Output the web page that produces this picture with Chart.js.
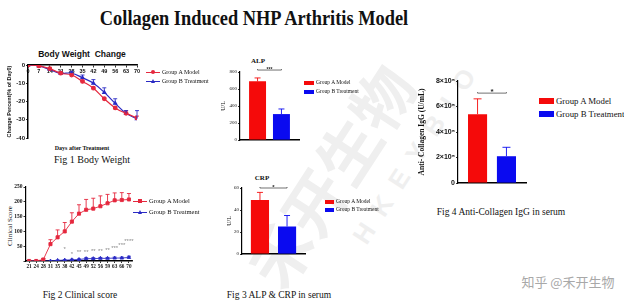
<!DOCTYPE html>
<html>
<head>
<meta charset="utf-8">
<script src="https://cdn.jsdelivr.net/npm/chart.js@4.4.1/dist/chart.umd.min.js"></script>
<style>
body { margin: 0; width: 624px; height: 307px; background: #fff; position: relative; overflow: hidden; font-family: 'Liberation Serif', serif; color: #111; }
canvas { position: absolute; }
.t { position: absolute; white-space: nowrap; transform: translate(-50%, -50%); line-height: 1; }
.lg { position: absolute; white-space: nowrap; line-height: 1; transform: translateY(-50%); }
.sw { position: absolute; }
.mark { position: absolute; white-space: nowrap; color: #efefef; font-family: 'Noto Sans CJK SC', sans-serif; font-weight: bold; transform-origin: center; }
</style>
</head>
<body>

<div class="mark" style="left:205px; top:130px; font-size:62px; transform: rotate(-57deg);">禾开生物</div>
<div class="mark" style="left:310px; top:135px; font-size:26px; letter-spacing:14px; font-family:'Liberation Sans',sans-serif; transform: rotate(-57deg);">HKEYBIO</div>

<div class="t" style="left:254px; top:18px; font-size:21px; font-weight:bold; transform: translate(-50%, -50%) scaleX(0.875);">Collagen Induced NHP Arthritis Model</div>

<div class="t" style="left:82px; top:54px; font-size:8.5px; font-weight:bold; font-family:'Liberation Sans',sans-serif;">Body Weight&nbsp; Change</div>
<div class="t" style="left:82px; top:148px; font-size:6px; font-weight:bold;">Days after Treatment</div>
<div class="t" style="left:92px; top:160px; font-size:10px;">Fig 1 Body Weight</div>
<div class="t" style="left:80px; top:296px; font-size:9.5px;">Fig 2 Clinical score</div>
<div class="t" style="left:279px; top:296px; font-size:9.5px;">Fig 3 ALP &amp; CRP in serum</div>
<div class="t" style="left:501px; top:213px; font-size:9.5px;">Fig 4 Anti-Collagen IgG in serum</div>
<div class="t" style="left:258px; top:61px; font-size:7px; font-weight:bold;">ALP</div>
<div class="t" style="left:262px; top:178px; font-size:7px; font-weight:bold;">CRP</div>
<div class="t" style="left:10px; top:226px; font-size:7px; transform: translate(-50%, -50%) rotate(-90deg);">Clinical Score</div>
<div class="t" style="left:568px; top:281px; font-size:13px; color:#a8a8a8; font-family:'Noto Sans CJK SC',sans-serif;">知乎 @禾开生物</div>

<canvas id="weightChart" width="150" height="90" style="left:0; top:55px;"></canvas>
<canvas id="scoreChart" width="140" height="95" style="left:0; top:180px;"></canvas>
<canvas id="alpChart" width="90" height="80" style="left:215px; top:65px;"></canvas>
<canvas id="crpChart" width="100" height="80" style="left:215px; top:180px;"></canvas>
<canvas id="iggChart" width="125" height="120" style="left:410px; top:70px;"></canvas>

<div id="legends"></div>

<script>
const weightDays = [0, 7, 14, 21, 28, 35, 42, 49, 56, 63, 70];
const weightModel = [0, -0.5, -2, -4.5, -5.5, -9, -12.7, -18.5, -23.5, -26.5, -29];
const weightModelErr = [0, 0, 0.5, 0.5, 0.5, 0.5, 0.5, 0.5, 0.5, 1.5, 1];
const weightTreat = [0, -0.5, -2.5, -4.5, -4.5, -7, -10, -15, -21, -26.5, -29.5];
const weightTreatErr = [0, 0, 0, 0, 1, 1.5, 2, 2.5, 2.5, 1.5, 4.5];

const scoreDays = ['21', '24', '28', '31', '35', '38', '42', '45', '49', '52', '56', '59', '63', '66', '70'];
const scoreModel = [0, 0, 5, 57, 80, 100, 133, 160, 173, 177, 185, 195, 205, 206, 208];
const scoreModelErr = [0, 0, 3, 15, 25, 30, 30, 30, 35, 35, 35, 30, 25, 25, 20];
const scoreTreat = [0, 0, 0, 0, 2, 3, 4, 5, 8, 8, 9, 9, 10, 10, 12];
const scoreTreatErr = [0, 0, 0, 0, 1, 1, 2, 2, 3, 3, 3, 3, 3, 3, 4];
const scoreStars = ['', '', '', '', '', '*', '*', '**', '**', '**', '**', '**', '***', '***', '****'];
const scoreStarLevels = [0, 0, 0, 0, 0, 40, 24, 30, 30, 33, 33, 36, 42, 54, 65];
const scoreTicks = ['', '50', '100', '150', '200', '250'];

const alpModel = [690];
const alpModelErr = [40];
const alpTreat = [305];
const alpTreatErr = [60];

const crpModel = [49];
const crpModelErr = [7];
const crpTreat = [25];
const crpTreatErr = [10];

const iggModel = [540000];
const iggModelErr = [120000];
const iggTreat = [210000];
const iggTreatErr = [70000];
const iggTickLabels = ['0', '2×10⁵', '4×10⁵', '6×10⁵', '8×10⁵'];

const groupNames = ['Group A Model', 'Group B Treatment'];

const lineRed = '#e5283e';
const lineBlue = '#2a2ac4';
const barRed = '#f50a0a';
const barBlue = '#0a0af0';
const serif = 'Liberation Serif';
const sans = 'Liberation Sans';

Chart.defaults.color = '#111';
Chart.defaults.font.family = serif;

// fixes axis size so chart areas line up with the reference
function fit(width, height) {
    return (scale) => {
        if (width !== null) scale.width = width;
        if (height !== null) scale.height = height;
        scale.paddingLeft = 0;
        scale.paddingRight = 0;
        scale.paddingTop = 0;
        scale.paddingBottom = 0;
    };
}

const errorBars = {
    id: 'errorBars',
    afterDatasetsDraw(chart) {
        const ctx = chart.ctx;
        const yScale = chart.scales.y;
        chart.data.datasets.forEach((dataset, i) => {
            if (!dataset.errors) return;
            const meta = chart.getDatasetMeta(i);
            ctx.save();
            ctx.strokeStyle = dataset.errorColor || dataset.borderColor;
            ctx.lineWidth = 0.9;
            meta.data.forEach((el, j) => {
                const err = dataset.errors[j];
                if (!err) return;
                const v = typeof dataset.data[j] === 'object' ? dataset.data[j].y : dataset.data[j];
                const top = yScale.getPixelForValue(v + err);
                const cap = dataset.capWidth || 2;
                ctx.beginPath();
                ctx.moveTo(el.x, el.y);
                ctx.lineTo(el.x, top);
                ctx.moveTo(el.x - cap, top);
                ctx.lineTo(el.x + cap, top);
                ctx.stroke();
            });
            ctx.restore();
        });
    }
};

const sigBracket = {
    id: 'sigBracket',
    afterDraw(chart, args, opts) {
        if (!opts.text) return;
        const ctx = chart.ctx;
        const a = chart.getDatasetMeta(0).data[0];
        const b = chart.getDatasetMeta(1).data[0];
        const y = chart.scales.y.getPixelForValue(opts.value);
        ctx.save();
        ctx.strokeStyle = '#333';
        ctx.lineWidth = 0.7;
        ctx.beginPath();
        ctx.moveTo(a.x, y - 1);
        ctx.lineTo(a.x, y);
        ctx.lineTo(b.x, y);
        ctx.lineTo(b.x, y - 1);
        ctx.stroke();
        ctx.fillStyle = '#222';
        ctx.font = 'bold ' + opts.size + 'px ' + sans;
        ctx.textAlign = 'center';
        ctx.textBaseline = 'bottom';
        ctx.fillText(opts.text, (a.x + b.x) / 2, y + opts.size * 0.35);
        ctx.restore();
    }
};

const starMarks = {
    id: 'starMarks',
    afterDatasetsDraw(chart, args, opts) {
        if (!opts.stars) return;
        const ctx = chart.ctx;
        ctx.save();
        ctx.fillStyle = '#8a8a8a';
        ctx.font = '6px ' + sans;
        ctx.textAlign = 'center';
        ctx.textBaseline = 'middle';
        opts.stars.forEach((s, i) => {
            if (!s) return;
            const x = chart.scales.x.getPixelForValue(i);
            const y = chart.scales.y.getPixelForValue(opts.levels[i]);
            ctx.fillText(s, x, y);
        });
        ctx.restore();
    }
};

Chart.register(errorBars, sigBracket, starMarks);

const common = {
    responsive: false,
    animation: false,
    events: [],
    plugins: { legend: { display: false }, tooltip: { enabled: false } }
};

function axisGrid(len) {
    return { drawOnChartArea: false, drawTicks: true, tickLength: len, color: '#000', lineWidth: 0.8 };
}

new Chart(document.getElementById('weightChart'), {
    type: 'line',
    data: {
        datasets: [
            {
                label: groupNames[0],
                data: weightDays.map((d, i) => ({ x: d, y: weightModel[i] })),
                errors: weightModelErr,
                borderColor: lineRed, backgroundColor: lineRed,
                borderWidth: 1.2, pointRadius: 1.8, pointStyle: 'circle', tension: 0.4
            },
            {
                label: groupNames[1],
                data: weightDays.map((d, i) => ({ x: d, y: weightTreat[i] })),
                errors: weightTreatErr,
                borderColor: lineBlue, backgroundColor: lineBlue,
                borderWidth: 1.2, pointRadius: 1.8, pointStyle: 'triangle', tension: 0.4
            }
        ]
    },
    options: {
        ...common,
        layout: { padding: { left: 6, right: 13, top: 10, bottom: 7 } },
        scales: {
            x: {
                type: 'linear', min: 0, max: 70, position: { y: 0 },
                ticks: { stepSize: 7, autoSkip: false, maxRotation: 0, padding: 1, font: { family: sans, size: 5.5, weight: 'bold' } },
                grid: axisGrid(2),
                border: { color: '#000', width: 1.5 },
                afterFit: fit(null, 0)
            },
            y: {
                min: -40, max: 0,
                ticks: { stepSize: 10, padding: 1, font: { family: sans, size: 6, weight: 'bold' } },
                grid: axisGrid(2),
                border: { color: '#000', width: 1.5 },
                title: { display: true, text: 'Change Percent(% of Day0)', padding: 0, font: { family: sans, size: 5.5, weight: 'bold' } },
                afterFit: fit(22, null)
            }
        }
    }
});

new Chart(document.getElementById('scoreChart'), {
    type: 'line',
    data: {
        labels: scoreDays,
        datasets: [
            {
                label: groupNames[0], data: scoreModel, errors: scoreModelErr,
                borderColor: lineRed, backgroundColor: lineRed,
                borderWidth: 0.9, pointRadius: 2.2, pointStyle: 'rect', tension: 0
            },
            {
                label: groupNames[1], data: scoreTreat, errors: scoreTreatErr,
                borderColor: lineBlue, backgroundColor: lineBlue,
                borderWidth: 0.9, pointRadius: 2, pointStyle: 'triangle', tension: 0
            }
        ]
    },
    options: {
        ...common,
        layout: { padding: { left: 5, right: 7.5, top: 7, bottom: 4 } },
        plugins: { ...common.plugins, starMarks: { stars: scoreStars, levels: scoreStarLevels } },
        scales: {
            x: {
                offset: true,
                ticks: { autoSkip: false, maxRotation: 0, padding: 1, font: { size: 5.2, weight: 'bold' } },
                grid: { ...axisGrid(2), offset: false },
                border: { color: '#000', width: 1.5 },
                afterFit: fit(null, 10)
            },
            y: {
                min: 0, max: 250,
                ticks: { stepSize: 50, autoSkip: false, padding: 1, font: { size: 5.5, weight: 'bold' }, callback: (v, i) => scoreTicks[i] },
                grid: axisGrid(2),
                border: { color: '#000', width: 1.2 },
                afterFit: fit(20.5, null)
            }
        }
    }
});

function barChart(id, labels, model, modelErr, treat, treatErr, opt) {
    return new Chart(document.getElementById(id), {
        type: 'bar',
        data: {
            labels: labels,
            datasets: [
                { label: groupNames[0], data: model, errors: modelErr, backgroundColor: barRed, borderColor: barRed, capWidth: opt.cap },
                { label: groupNames[1], data: treat, errors: treatErr, backgroundColor: barBlue, borderColor: barBlue, capWidth: opt.cap }
            ]
        },
        options: {
            ...common,
            barPercentage: opt.barPct,
            categoryPercentage: opt.catPct,
            layout: { padding: opt.padding },
            plugins: { ...common.plugins, sigBracket: opt.bracket },
            scales: {
                x: {
                    ticks: { display: false },
                    grid: { display: false },
                    border: { color: '#000', width: 1.5 },
                    afterFit: fit(null, 0)
                },
                y: {
                    min: 0, max: opt.max,
                    ticks: { stepSize: opt.step, padding: 1, font: opt.tickFont, callback: opt.tickCallback },
                    grid: axisGrid(2),
                    border: { color: '#000', width: 1.2 },
                    title: { display: true, text: opt.title, padding: opt.titlePad, font: opt.titleFont },
                    afterFit: fit(opt.axisWidth, null)
                }
            }
        }
    });
}

barChart('alpChart', ['ALP'], alpModel, alpModelErr, alpTreat, alpTreatErr, {
    max: 800, step: 200, barPct: 0.71, catPct: 0.81, cap: 3,
    padding: { left: 5, right: 6, top: 7, bottom: 5 }, axisWidth: 20,
    tickFont: { size: 5 }, title: 'U/L', titleFont: { size: 6 }, titlePad: 0,
    bracket: { value: 823, text: '***', size: 5 }
});

barChart('crpChart', ['CRP'], crpModel, crpModelErr, crpTreat, crpTreatErr, {
    max: 60, step: 20, barPct: 0.67, catPct: 0.86, cap: 3,
    padding: { left: 7, right: 10, top: 8, bottom: 6 }, axisWidth: 20,
    tickFont: { size: 5 }, title: 'U/L', titleFont: { size: 6 }, titlePad: { top: 4 },
    bracket: { value: 60, text: '*', size: 6 }
});

barChart('iggChart', ['IgG'], iggModel, iggModelErr, iggTreat, iggTreatErr, {
    max: 800000, step: 200000, barPct: 0.66, catPct: 0.85, cap: 4,
    padding: { left: 8, right: 9, top: 11, bottom: 7 }, axisWidth: 40,
    tickFont: { family: sans, size: 7, weight: 'bold' },
    tickCallback: (v, i) => iggTickLabels[i],
    title: 'Anti- Collagen IgG (U/mL)', titleFont: { size: 7.5, weight: 'bold' }, titlePad: 0,
    bracket: { value: 705000, text: '*', size: 8 }
});

// html legends, one block per panel
const legendSpecs = [
    { x: 146, ys: [72, 81], size: 6, kind: 'line', markers: ['circle', 'tri'], colors: [lineRed, lineBlue] },
    { x: 133, ys: [201, 212], size: 6.5, kind: 'line', markers: ['square', 'tri'], colors: [lineRed, lineBlue] },
    { x: 304, ys: [83, 92], size: 5.5, kind: 'box', w: 10, h: 4, colors: [barRed, barBlue] },
    { x: 325, ys: [202, 210], size: 5.5, kind: 'box', w: 9, h: 4, colors: [barRed, barBlue] },
    { x: 539, ys: [101, 114], size: 8.8, kind: 'box', w: 15, h: 6, colors: [barRed, barBlue] }
];

const legendRoot = document.getElementById('legends');
legendSpecs.forEach((spec) => {
    spec.ys.forEach((y, i) => {
        const color = spec.colors[i];
        let html = '';
        let textX;
        if (spec.kind === 'line') {
            html += `<div class="sw" style="left:${spec.x}px;top:${y - 0.5}px;width:14px;height:1px;background:${color}"></div>`;
            if (spec.markers[i] === 'tri') {
                html += `<div class="sw" style="left:${spec.x + 5}px;top:${y - 2.5}px;width:0;height:0;border-left:2.5px solid transparent;border-right:2.5px solid transparent;border-bottom:4px solid ${color}"></div>`;
            } else {
                const r = spec.markers[i] === 'circle' ? '50%' : '0';
                html += `<div class="sw" style="left:${spec.x + 5}px;top:${y - 2}px;width:4px;height:4px;border-radius:${r};background:${color}"></div>`;
            }
            textX = spec.x + 16;
        } else {
            html += `<div class="sw" style="left:${spec.x}px;top:${y - spec.h / 2}px;width:${spec.w}px;height:${spec.h}px;background:${color}"></div>`;
            textX = spec.x + spec.w + 2;
        }
        html += `<div class="lg" style="left:${textX}px;top:${y}px;font-size:${spec.size}px">${groupNames[i]}</div>`;
        legendRoot.insertAdjacentHTML('beforeend', html);
    });
});
</script>
</body>
</html>
